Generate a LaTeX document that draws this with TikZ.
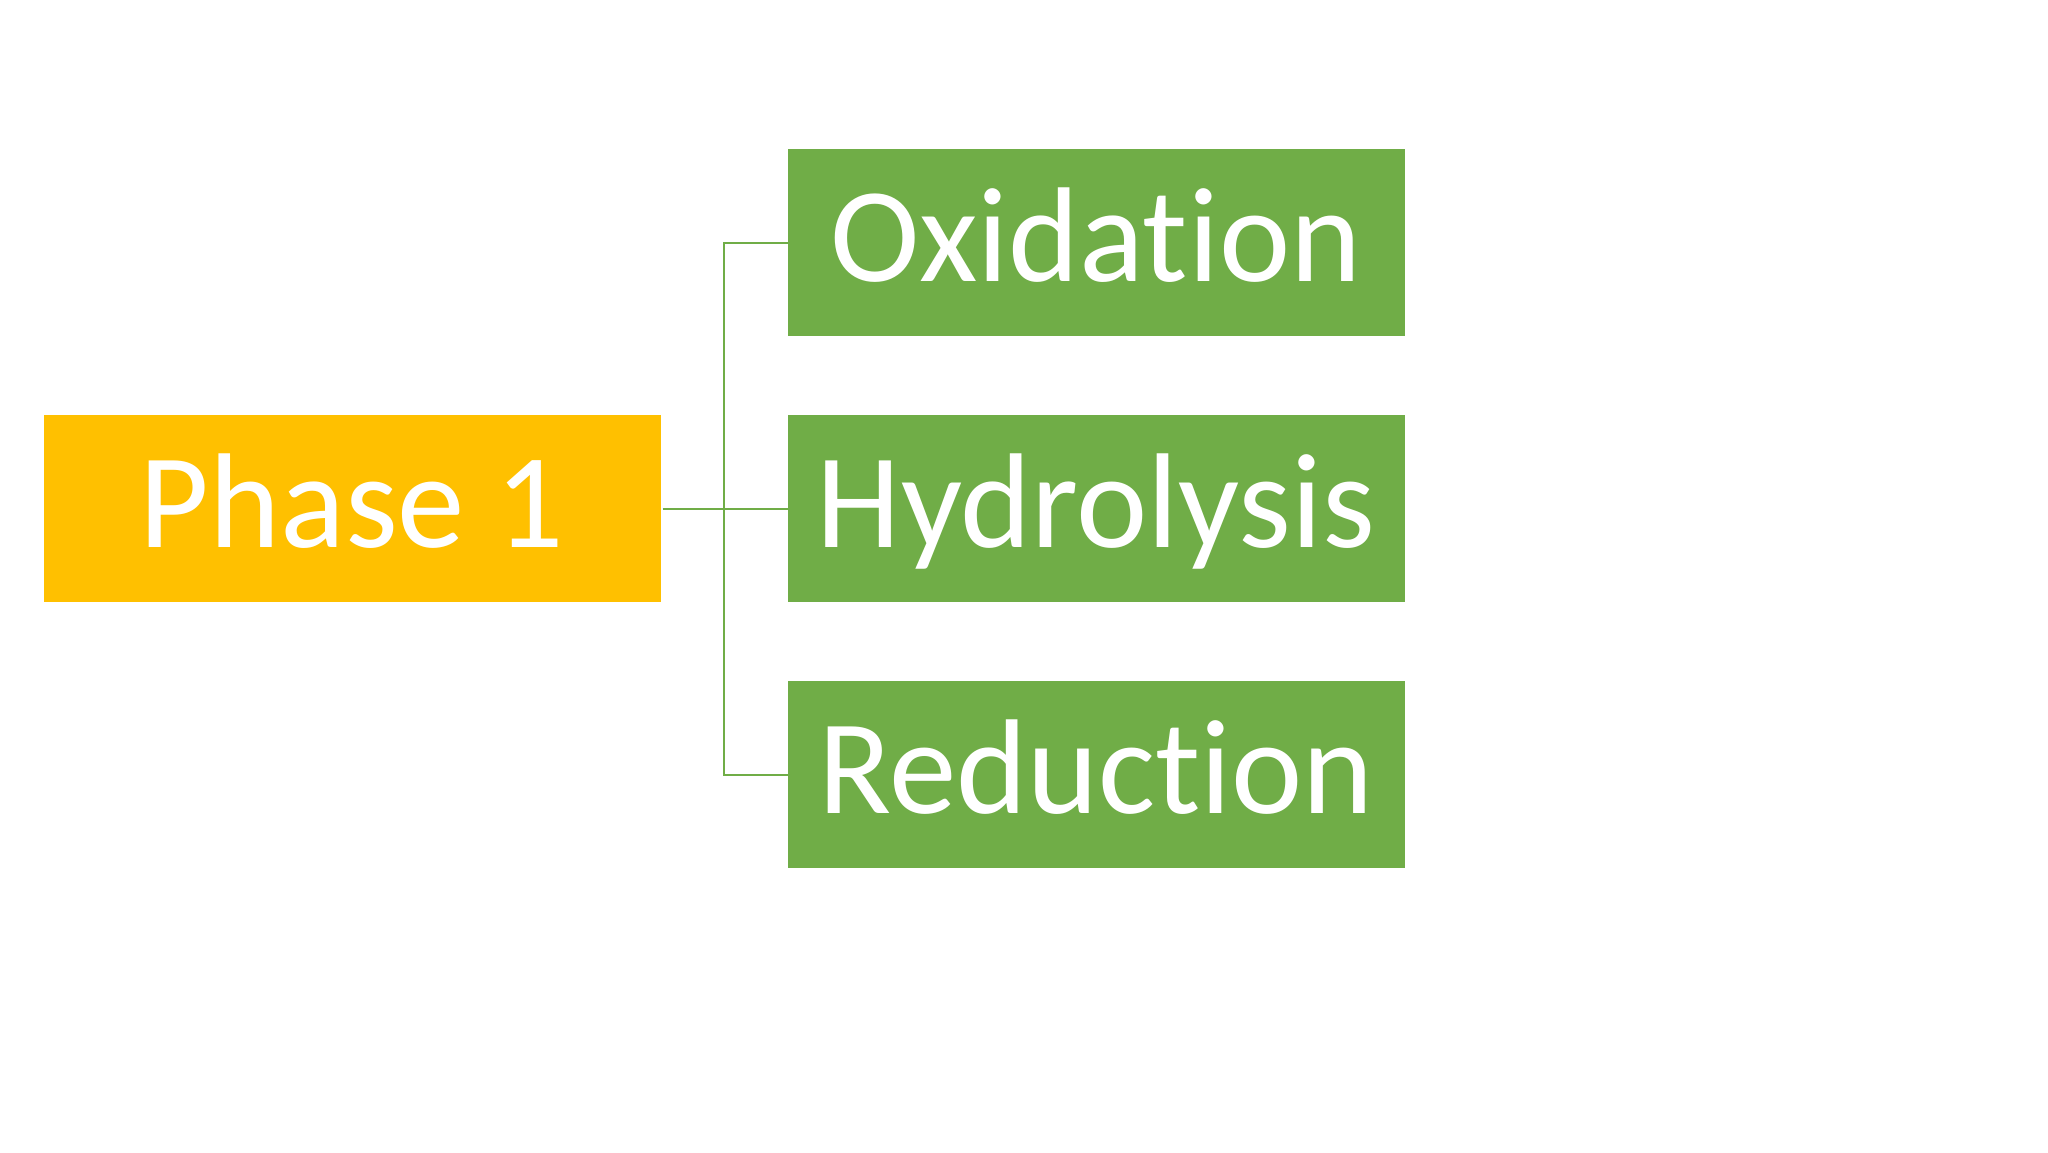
\documentclass[tikz,border=0pt]{standalone}
\usepackage{fontspec}
\setmainfont{Carlito}[Ligatures=NoCommon]
\usetikzlibrary{positioning}
\definecolor{phaseorange}{HTML}{FFC000}
\definecolor{stepgreen}{HTML}{70AD47}

\begin{document}
\begin{tikzpicture}[x=1pt, y=-1pt, node distance = 79pt and 127pt]
        \tikzstyle{box} = [minimum width = 617pt, minimum height = 187pt, inner sep = 0pt, outer sep = 0pt, text height = 100pt, text depth = 23pt, text = white, font = \fontsize{135}{160}\selectfont]
        \tikzstyle{phasebox} = [box, fill = phaseorange]
        \tikzstyle{reaction} = [box, fill = stepgreen]
        \tikzstyle{connect} = [draw = stepgreen, line width = 2pt]
        \useasboundingbox[fill = white] (0,0) rectangle (2048,1152);
        \node[phasebox] (phase) at (352,508.5) {Phase 1};
        \node[reaction, right=of phase] (hydro) {Hydrolysis};
        \node[reaction, above=of hydro] (oxid) {Oxidation};
        \node[reaction, below=of hydro] (reduc) {Reduction};
        \coordinate (split) at (724,508.5);
        \draw[connect] ([xshift=2pt]phase.east) -- (hydro.west);
        \draw[connect] (oxid.west) -| (split) |- (reduc.west);
      \end{tikzpicture}
\end{document}
